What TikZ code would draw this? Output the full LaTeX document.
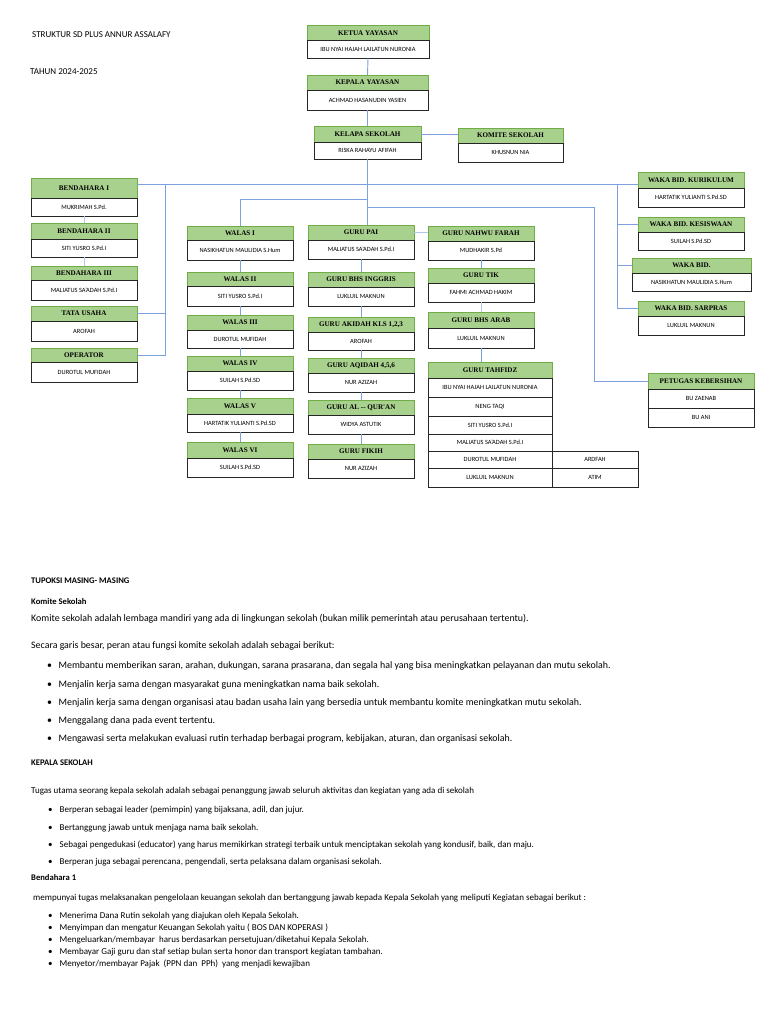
\documentclass[tikz,border=0pt]{standalone}
\usepackage{fontspec}
\setmainfont{Carlito}
\newfontfamily\judul{Liberation Serif}
\usetikzlibrary{calc}
\definecolor{hijau}{RGB}{169,209,142}
\definecolor{hijautua}{RGB}{112,173,71}
\definecolor{garis}{RGB}{125,160,222}
\tikzset{Head/.style={
    inner sep=0pt, outer sep=0pt,
    draw=hijautua, line width=0.8pt,
    fill=hijau,
    font=\judul\bfseries\fontsize{7.1}{8}\selectfont,
    align=center,
    },
  Nama/.style={
    inner sep=0pt, outer sep=0pt,
    draw=black!85, line width=0.9pt,
    fill=white,
    font=\fontsize{6.4}{7}\selectfont,
    align=center,
    },
  Garis/.style={draw=garis, line width=0.9pt},
  Teks/.style={inner sep=0pt, anchor=base west, font=\fontsize{9.9}{11}\selectfont},
  Kecil/.style={inner sep=0pt, anchor=base west, font=\fontsize{9}{10}\selectfont},
  Judul/.style={inner sep=0pt, anchor=base west, font=\bfseries\fontsize{8.6}{9}\selectfont},
}
% header and name box: name, x1, x2, ytop, ymid, ybot, title, person
\newcommand{\Kotak}[8]{
  \node [Head, minimum width={(#3-#2)*1pt}, minimum height={(#5-#4)*1pt}]
    (#1) at ({(#2+#3)/2},{(#4+#5)/2}) {#7};
  \node [Nama, minimum width={(#3-#2)*1pt}, minimum height={(#6-#5)*1pt}]
    (#1-n) at ({(#2+#3)/2},{(#5+#6)/2}) {#8};
}
% extra row: name, x1, x2, ytop, ybot, person
\newcommand{\Baris}[6]{
  \node [Nama, minimum width={(#3-#2)*1pt}, minimum height={(#5-#4)*1pt}]
    (#1) at ({(#2+#3)/2},{(#4+#5)/2}) {#6};
}

\begin{document}
\begin{tikzpicture}[x=1pt, y=-1pt]
    \useasboundingbox [fill=white] (0,0) rectangle (768,1024);

    \node [Kecil] (judul) at (32,38) {STRUKTUR SD PLUS ANNUR ASSALAFY};
    \node [Kecil] (tahun) at (30,75) {TAHUN 2024-2025};

    % pimpinan
    \Kotak{ketua}{307}{429}{25}{40.5}{58}{KETUA YAYASAN}{IBU NYAI HAJAH LAILATUN NURONIA}
    \Kotak{kpyay}{307}{428}{75}{90}{110}{KEPALA YAYASAN}{ACHMAD HASANUDIN YASIEN}
    \Kotak{kepsek}{314}{421}{126}{142}{159}{KELAPA SEKOLAH}{RISKA RAHAYU AFIFAH}
    \Kotak{komite}{458}{563}{128}{143}{162}{KOMITE SEKOLAH}{KHUSNUN NIA}

    % kiri
    \Kotak{bend1}{31}{137}{178}{198}{216}{BENDAHARA I}{MUKRIMAH S.Pd.}
    \Kotak{bend2}{31}{137}{223}{239}{257}{BENDAHARA II}{SITI YUSRO S.Pd.I}
    \Kotak{bend3}{31}{137}{266}{280}{300}{BENDAHARA III}{MALIATUS SA'ADAH S.Pd.I}
    \Kotak{tu}{31}{137}{306}{321}{341}{TATA USAHA}{AROFAH}
    \Kotak{opr}{31}{137}{348}{362}{382}{OPERATOR}{DUROTUL MUFIDAH}

    % walas
    \Kotak{walas1}{187}{293}{226}{240}{260}{WALAS I}{NASIKHATUN MAULIDIA S.Hum}
    \Kotak{walas2}{187}{293}{272}{286}{306}{WALAS II}{SITI YUSRO S.Pd.I}
    \Kotak{walas3}{187}{293}{315}{330}{348}{WALAS III}{DUROTUL MUFIDAH}
    \Kotak{walas4}{187}{293}{356}{371}{390}{WALAS IV}{SUILAH S.Pd.SD}
    \Kotak{walas5}{187}{293}{398}{414}{432}{WALAS V}{HARTATIK YULIANTI S.Pd.SD}
    \Kotak{walas6}{187}{293}{442}{458}{477}{WALAS VI}{SUILAH S.Pd.SD}

    % guru
    \Kotak{pai}{308}{414}{225}{240}{259}{GURU PAI}{MALIATUS SA'ADAH S.Pd.I}
    \Kotak{ingg}{308}{414}{272}{287}{306}{GURU BHS INGGRIS}{LUKLUIL MAKNUN}
    \Kotak{akd}{308}{414}{317}{332}{350}{GURU AKIDAH KLS 1,2,3}{AROFAH}
    \Kotak{aqd}{308}{414}{358}{373}{392}{GURU AQIDAH 4,5,6}{NUR AZIZAH}
    \Kotak{quran}{308}{414}{400}{415}{434}{GURU AL -- QUR'AN}{WIDYA ASTUTIK}
    \Kotak{fikih}{308}{414}{444}{459}{478}{GURU FIKIH}{NUR AZIZAH}

    \Kotak{nahwu}{428}{534}{226}{241}{260}{GURU NAHWU FARAH}{MUDHAKIR S.Pd}
    \Kotak{tik}{428}{534}{268}{283}{302}{GURU TIK}{FAHMI ACHMAD HAKIM}
    \Kotak{arab}{428}{534}{312}{328}{348}{GURU BHS ARAB}{LUKLUIL MAKNUN}
    \Kotak{tahfidz}{428}{552}{362}{378}{397}{GURU TAHFIDZ}{IBU NYAI HAJAH LAILATUN NURONIA}
    \Baris{tahfidz2}{428}{552}{397}{416}{NENG TAQI}
    \Baris{tahfidz3}{428}{552}{416}{434}{SITI YUSRO S.Pd.I}
    \Baris{tahfidz4}{428}{552}{434}{451}{MALIATUS SA'ADAH S.Pd.I}
    \Baris{tahfidz5}{428}{552}{451}{468}{DUROTUL MUFIDAH}
    \Baris{tahfidz6}{428}{552}{468}{487}{LUKLUIL MAKNUN}
    \Baris{tahfidz7}{552}{638}{451}{468}{ARDFAH}
    \Baris{tahfidz8}{552}{638}{468}{487}{ATIM}

    % waka
    \Kotak{wkur}{638}{744}{172}{188}{207}{WAKA BID. KURIKULUM}{HARTATIK YULIANTI S.Pd.SD}
    \Kotak{wsis}{638}{744}{217}{232}{250}{WAKA BID. KESISWAAN}{SUILAH S.Pd.SD}
    \Kotak{wbid}{632}{751}{258}{273}{291}{WAKA BID.}{NASIKHATUN MAULIDIA S.Hum}
    \Kotak{wsar}{638}{744}{301}{316}{335}{WAKA BID. SARPRAS}{LUKLUIL MAKNUN}
    \Kotak{bersih}{648}{754}{373}{389}{408}{PETUGAS KEBERSIHAN}{BU ZAENAB}
    \Baris{bersih2}{648}{754}{408}{427}{BU ANI}

    % garis
    \coordinate (hub) at (367,184);
    \coordinate (kiri) at (165,184);
    \coordinate (kanan) at (617,184);
    \draw [Garis] (ketua-n.south) -- (kpyay.north);
    \draw [Garis] (kpyay-n.south) -- (kepsek.north);
    \draw [Garis] (kepsek.east) -- (kepsek.east -| komite.west);
    \draw [Garis] (kepsek-n.south) -- (kepsek-n.south |- pai.north);
    \draw [Garis] (bend1.east |- hub) -- (wkur.west |- hub);
    \draw [Garis] (kiri) -- (kiri |- opr.east) -- (opr.east);
    \draw [Garis] (tu.east) -- (tu.east -| kiri);
    \draw [Garis] (kanan) -- (kanan |- wsar.west) -- (wsar.west);
    \draw [Garis] (wsis.west) -- (wsis.west -| kanan);
    \draw [Garis] (wbid.west) -- (wbid.west -| kanan);
    \draw [Garis] (367,199) -- (walas1.north |- 0,199) -- (walas1.north);
    \draw [Garis] (367,207) -- (594,207) -- (594,0 |- bersih.west) -- (bersih.west);
    \draw [Garis, draw=garis!60] (bend1-n.south) -- (bend2.north);
    \draw [Garis, draw=garis!60] (bend2-n.south) -- (bend3.north);
    \draw [Garis] (walas1-n.south) -- (walas2.north);
    \draw [Garis] (walas2-n.south) -- (walas3.north);
    \draw [Garis] (walas3-n.south) -- (walas4.north);
    \draw [Garis] (walas4-n.south) -- (walas5.north);
    \draw [Garis] (walas5-n.south) -- (walas6.north);
    \draw [Garis] (pai-n.south) -- (ingg.north);
    \draw [Garis] (ingg-n.south) -- (akd.north);
    \draw [Garis] (akd-n.south) -- (aqd.north);
    \draw [Garis] (aqd-n.south) -- (quran.north);
    \draw [Garis] (quran-n.south) -- (fikih.north);
    \draw [Garis, draw=garis!60] (pai.east) -- (pai.east -| nahwu.west);
    \draw [Garis] (nahwu-n.south) -- (tik.north);
    \draw [Garis, draw=garis!60] (tik-n.south) -- (arab.north);
    \draw [Garis] (arab-n.south) -- (arab-n.south |- tahfidz.north);

    % tupoksi
    \node [Judul] (tp) at (31,583) {TUPOKSI MASING- MASING};
    \node [Judul] (tp1) at (31,604) {Komite Sekolah};
    \node [Teks] (tp2) at (31,621) {Komite sekolah adalah lembaga mandiri yang ada di lingkungan sekolah (bukan milik pemerintah atau perusahaan tertentu).};
    \node [Teks] (tp3) at (31,648) {Secara garis besar, peran atau fungsi komite sekolah adalah sebagai berikut:};
    \node [Teks] (b1) at (47,668) {\textbullet\hspace{6.5pt}Membantu memberikan saran, arahan, dukungan, sarana prasarana, dan segala hal yang bisa meningkatkan pelayanan dan mutu sekolah.};
    \node [Teks] (b2) at (47,687) {\textbullet\hspace{6.5pt}Menjalin kerja sama dengan masyarakat guna meningkatkan nama baik sekolah.};
    \node [Teks] (b3) at (47,705) {\textbullet\hspace{6.5pt}Menjalin kerja sama dengan organisasi atau badan usaha lain yang bersedia untuk membantu komite meningkatkan mutu sekolah.};
    \node [Teks] (b4) at (47,723) {\textbullet\hspace{6.5pt}Menggalang dana pada event tertentu.};
    \node [Teks] (b5) at (47,741) {\textbullet\hspace{6.5pt}Mengawasi serta melakukan evaluasi rutin terhadap berbagai program, kebijakan, aturan, dan organisasi sekolah.};

    \node [Judul] (ks) at (31,765) {KEPALA SEKOLAH};
    \node [Kecil] (ks1) at (31,793) {Tugas utama seorang kepala sekolah adalah sebagai penanggung jawab seluruh aktivitas dan kegiatan yang ada di sekolah};
    \node [Kecil] (c1) at (48,812) {\textbullet\hspace{7pt}Berperan sebagai leader (pemimpin) yang bijaksana, adil, dan jujur.};
    \node [Kecil] (c2) at (48,830) {\textbullet\hspace{7pt}Bertanggung jawab untuk menjaga nama baik sekolah.};
    \node [Kecil] (c3) at (48,847) {\textbullet\hspace{7pt}Sebagai pengedukasi (educator) yang harus memikirkan strategi terbaik untuk menciptakan sekolah yang kondusif, baik, dan maju.};
    \node [Kecil] (c4) at (48,864) {\textbullet\hspace{7pt}Berperan juga sebagai perencana, pengendali, serta pelaksana dalam organisasi sekolah.};

    \node [Judul] (bd) at (31,880) {Bendahara 1};
    \node [Kecil] (bd1) at (33,900) {mempunyai tugas melaksanakan pengelolaan keuangan sekolah dan bertanggung jawab kepada Kepala Sekolah yang meliputi Kegiatan sebagai berikut :};
    \node [Kecil] (d1) at (48,918) {\textbullet\hspace{7pt}Menerima Dana Rutin sekolah yang diajukan oleh Kepala Sekolah.};
    \node [Kecil] (d2) at (48,930) {\textbullet\hspace{7pt}Menyimpan dan mengatur Keuangan Sekolah yaitu ( BOS DAN KOPERASI )};
    \node [Kecil] (d3) at (48,942) {\textbullet\hspace{7pt}Mengeluarkan/membayar\ \ harus berdasarkan persetujuan/diketahui Kepala Sekolah.};
    \node [Kecil] (d4) at (48,954) {\textbullet\hspace{7pt}Membayar Gaji guru dan staf setiap bulan serta honor dan transport kegiatan tambahan.};
    \node [Kecil] (d5) at (48,966) {\textbullet\hspace{7pt}Menyetor/membayar Pajak\ \ (PPN dan\ \ PPh)\ \ yang menjadi kewajiban};
\end{tikzpicture}
\end{document}
